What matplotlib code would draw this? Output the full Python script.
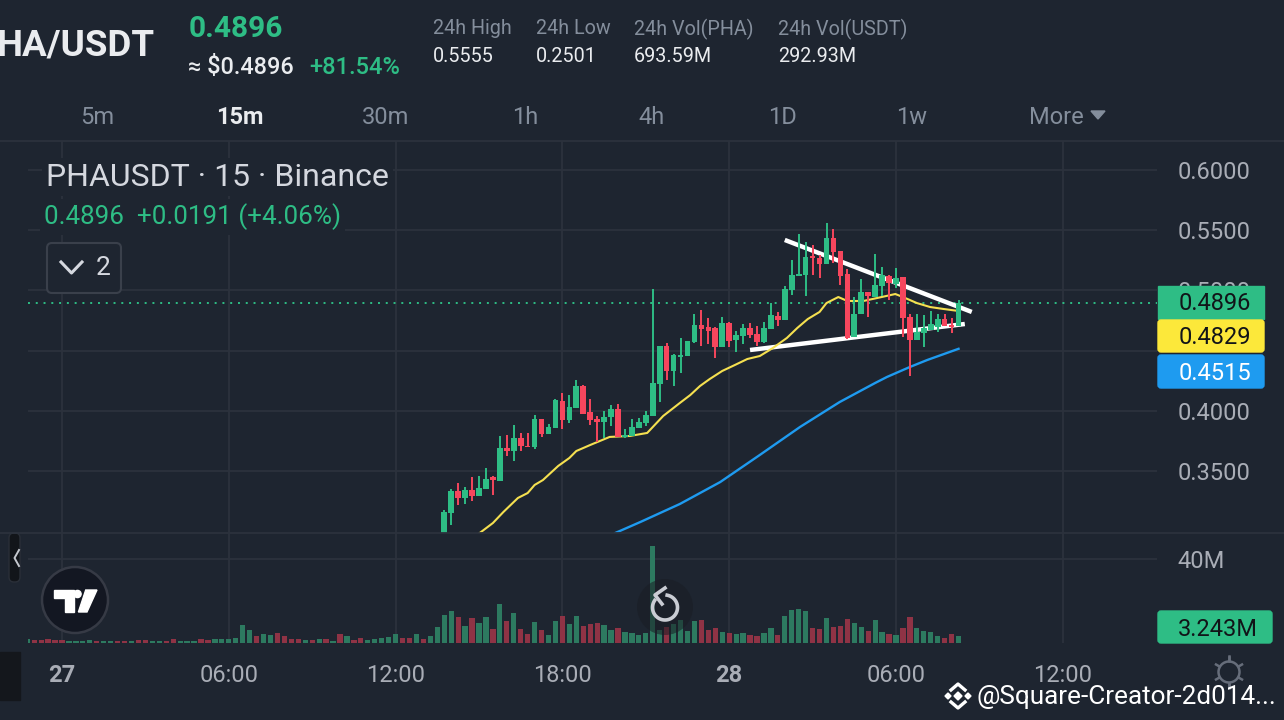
"""PHAUSDT 15m chart screenshot, redrawn with matplotlib."""

import matplotlib
matplotlib.use('Agg')
import matplotlib.pyplot as plt
import numpy as np
from matplotlib.patches import Circle, FancyBboxPatch, Polygon, Rectangle

plt.rcParams['font.family'] = ['Roboto', 'DejaVu Sans']

# candles, one per 15m bar, first one is bar 55 (bar 0 = 27th 00:00)
opens = [.2968, .3151, .3334, .3276, .3342, .3292, .3350, .3450, .3417, .3691, .3666, .3775, .3707, .3699, .3932,
         .3808, .3858, .4082, .3924, .4024, .4206, .3990, .3932, .3907, .3949, .4015, .3783, .3791, .3858, .3899,
         .3957, .4223, .4538, .4331, .4447, .4455, .4571, .4712, .4696, .4688, .4530, .4729, .4588, .4621, .4688,
         .4638, .4571, .4679, .4787, .4754, .5003, .5120, .5128, .5286, .5269, .5219, .5435, .5327, .5136, .4613,
         .4804, .4987, .4945, .5037, .5120, .5053, .5111, .4779, .4588, .4646, .4671, .4696, .4762, .4712, .4704]
highs = [.3176, .3350, .3400, .3367, .3450, .3458, .3525, .3458, .3791, .3799, .3882, .3816, .3816, .3965, .3932,
         .3891, .4098, .4148, .4131, .4256, .4214, .4098, .3957, .3999, .4048, .4057, .3850, .3932, .3941, .3999,
         .5012, .4538, .4563, .4472, .4605, .4580, .4804, .4837, .4771, .4696, .4779, .4738, .4663, .4721, .4729,
         .4704, .4738, .4895, .4821, .5037, .5252, .5468, .5402, .5377, .5294, .5560, .5510, .5327, .5178, .4945,
         .5095, .4987, .5302, .5194, .5128, .5186, .5111, .4804, .4804, .4796, .4829, .4804, .4804, .4771, .4920]
lows = [.2968, .3051, .3217, .3226, .3251, .3292, .3350, .3300, .3417, .3624, .3583, .3666, .3699, .3683, .3783,
        .3808, .3858, .3850, .3899, .4024, .3974, .3882, .3740, .3775, .3875, .3783, .3775, .3791, .3858, .3875,
        .3957, .4073, .4256, .4206, .4314, .4455, .4563, .4538, .4555, .4439, .4530, .4530, .4488, .4555, .4605,
        .4538, .4563, .4679, .4704, .4754, .4962, .5120, .4953, .5128, .5103, .5219, .5228, .5045, .4596, .4613,
        .4804, .4779, .4945, .4953, .4920, .5020, .4613, .4289, .4588, .4530, .4671, .4654, .4704, .4646, .4704]
closes = [.3159, .3334, .3276, .3342, .3292, .3359, .3433, .3425, .3691, .3666, .3775, .3707, .3699, .3932, .3808,
          .3866, .4090, .3924, .4032, .4206, .3974, .3924, .3907, .3949, .4015, .3783, .3799, .3866, .3907, .3965,
          .4231, .4538, .4331, .4463, .4463, .4580, .4712, .4679, .4663, .4530, .4729, .4580, .4629, .4688, .4629,
          .4571, .4688, .4796, .4754, .5012, .5128, .5136, .5277, .5269, .5219, .5435, .5319, .5120, .4605, .4804,
          .4987, .4953, .5045, .5128, .5061, .5103, .4771, .4588, .4654, .4688, .4721, .4762, .4704, .4696, .4896]

# moving averages (bar number, price)
yellow_bars = [60.1, 62, 63.5, 65.6, 67, 68, 69.2, 71.4, 73, 74, 76, 78.8, 81.7, 84.2, 86.5, 88.9, 90.4, 91.8, 93.2,
               95, 96.8, 98.6, 100.4, 102.3, 104.3, 105.8, 107.3, 109, 110, 111.7, 113, 115.3, 117.3, 119.9, 121,
               123, 124.9, 126.8, 129]
yellow_ma = [.2985, .3068, .3159, .3276, .3317, .3384, .3425, .3542, .3608, .3666, .3716, .3783, .3791, .3816, .3957,
             .4065, .4131, .4206, .4264, .4331, .4380, .4430, .4455, .4522, .4605, .4688, .4762, .4821, .4895, .4945,
             .4912, .4912, .4937, .4970, .4945, .4895, .4862, .4846, .4829]
blue_bars = [79.6, 83.2, 88.9, 94.7, 100.4, 106.2, 111.9, 117, 118.7, 122, 124.5, 129]
blue_ma = [.2985, .3076, .3226, .3408, .3633, .3866, .4073, .4231, .4281, .4364, .4422, .4515]

# hand drawn triangle
upper_bars = [104, 130.9]
upper_prices = [.5419, .4821]
lower_bars = [99, 129.9]
lower_prices = [.4505, .4721]

# volume in millions, first one is bar -5
volumes = [1.7, 1.3, 1.3, 1.7, 1.3, 1.3, .8, .8, .8, 1.3, .8, .8, .8, .8, .8, .8, 1.3, 1.3, .8, .8, 1.0, 1.7, .8, .8,
           .8, 1.7, 1.3, 1.7, 1.7, 1.7, 2.2, 8.4, 6.2, 3.3, 4.3, 3.8, 4.8, 3.3, 1.9, 1.9, 1.3, 1.3, 1.7, 1.7, .8, 4.3,
           3.3, 1.3, 2.2, 1.3, 1.7, 2.2, 2.7, 4.3, 2.4, 2.4, 4.3, 1.9, 3.3, 7.6, 13.3, 15.2, 12.4, 8.1, 11.9, 9.5,
           12.4, 6.7, 18.6, 10.5, 14.3, 6.7, 4.3, 10.0, 6.2, 3.8, 10.5, 12.9, 9.0, 12.9, 8.1, 9.0, 9.5, 8.6, 6.2,
           7.1, 5.2, 4.8, 3.8, 4.8, 46.2, 6.2, 7.8, 9.0, 11.0, 5.7, 10.5, 11.0, 6.2, 7.1, 5.2, 4.8, 4.3, 4.8, 3.8,
           3.3, 4.8, 7.1, 3.8, 12.9, 15.7, 16.2, 15.2, 7.1, 6.7, 11.9, 7.6, 8.1, 11.4, 9.5, 7.6, 5.7, 11.0, 5.2, 4.3,
           3.8, 7.1, 12.4, 7.1, 5.7, 5.2, 3.3, 2.4, 4.3, 3.243]
# up/down of the volume bars before the first candle, later ones follow the candles
early_dirs = 'grrrrrggggrggrrgrrggrrgggrrggggggrggrrrrgrgrgrgrrgggggrrgrgg'

# 0.4500 sits behind the value tags in the picture
price_ticks = [.60, .55, .50, .45, .40, .35]
price_labels = ['0.6000', '0.5500', '0.5000', '', '0.4000', '0.3500']
time_ticks = [0, 24, 48, 72, 96, 120, 144]
time_labels = ['27', '06:00', '12:00', '18:00', '28', '06:00', '12:00']

W, H = 1284, 720
BG = '#1e2530'
GRID = '#2c323d'
UP = '#2ebd85'
DOWN = '#f6465d'
GREY = '#848e9c'
LIGHT = '#eaecef'

fig = plt.figure(figsize=(W / 100, H / 100), dpi=100, facecolor=BG)


def make_axes(left, top, right, bottom):
    a = fig.add_axes([left / W, 1 - bottom / H, (right - left) / W, (bottom - top) / H], facecolor='none')
    for s in a.spines.values():
        s.set_visible(False)
    return a


ax = make_axes(28, 141, 1157, 533)
ax_vol = make_axes(28, 533, 1157, 643)

bar0_x, bar_w = 62, 6.95
xlim = ((28 - bar0_x) / bar_w, (1157 - bar0_x) / bar_w)

# price pane
ax.set_xlim(xlim)
ax.set_ylim(.6 - (533 - 170) / 1204, .6 + (170 - 141) / 1204)
ax.set_yticks(price_ticks, price_labels)
ax.yaxis.tick_right()
ax.set_xticks(time_ticks)
ax.tick_params(axis='x', length=0, labelbottom=False)
ax.tick_params(axis='y', length=0, pad=15, labelsize=17, labelcolor='#a9adb6')
ax.grid(True, color=GRID, lw=1.3)
ax.set_axisbelow(True)

bars = np.arange(55, 130)
opens, highs, lows, closes = map(np.array, (opens, highs, lows, closes))
colors = np.where(closes >= opens, UP, DOWN)

ax.axhline(closes[-1], color=UP, ls=(0, (1, 3)), lw=1.4, zorder=2)
ax.plot(upper_bars, upper_prices, color='white', lw=3.2, zorder=2.5, solid_capstyle='butt')
ax.plot(lower_bars, lower_prices, color='white', lw=3.2, zorder=2.5, solid_capstyle='butt')
ax.plot(blue_bars, blue_ma, color='#1e9bf0', lw=1.7, zorder=3)
ax.plot(yellow_bars, yellow_ma, color='#f5e050', lw=1.5, zorder=3)
ax.vlines(bars, lows, highs, colors=colors, lw=1.4, zorder=4)
ax.bar(bars, np.abs(closes - opens), bottom=np.minimum(opens, closes), width=.82, color=colors, zorder=4)

# volume pane
vol_bars = np.arange(-5, 130)
vol_dirs = list(early_dirs) + ['g' if c >= o else 'r' for o, c in zip(opens, closes)]
vol_colors = ['#2d7a60' if d == 'g' else '#8f3345' for d in vol_dirs]
ax_vol.set_xlim(xlim)
ax_vol.set_ylim(0, 110 * 40 / 84)
ax_vol.bar(vol_bars, volumes, width=.76, color=vol_colors, zorder=3)
ax_vol.set_yticks([40], ['40M'])
ax_vol.yaxis.tick_right()
ax_vol.set_xticks(time_ticks, time_labels)
ax_vol.tick_params(axis='x', length=0, pad=15, labelsize=17, labelcolor='#a9adb6')
ax_vol.tick_params(axis='y', length=0, pad=15, labelsize=17, labelcolor='#a9adb6')
for i in (0, 4):
    ax_vol.get_xticklabels()[i].set_fontweight('bold')
ax_vol.grid(True, color=GRID, lw=1.3)
ax_vol.set_axisbelow(True)

# everything around the chart goes on an overlay in pixel coordinates
ui = fig.add_axes([0, 0, 1, 1], facecolor='none')
ui.set_xlim(0, W)
ui.set_ylim(H, 0)
ui.axis('off')


def txt(x, y, s, size, color, ha='left', weight='normal', **kw):
    return ui.text(x, y, s, fontsize=size, color=color, ha=ha, va='center', fontweight=weight, **kw)


ui.plot([0, W], [141, 141], color=GRID, lw=1.3)
ui.plot([0, W], [533, 533], color=GRID, lw=1.3)

# header
txt(155, 46, 'HA/USDT', 26.5, LIGHT, ha='right', weight='bold')
txt(189, 29, '0.4896', 21.5, UP, weight='bold')
txt(188, 68, '≈ $0.4896', 16.8, LIGHT, weight='medium')
txt(309, 68, '+81.54%', 17, UP, weight='medium')
for x, head, val in [(433, '24h High', '0.5555'), (536, '24h Low', '0.2501'),
                     (634, '24h Vol(PHA)', '693.59M'), (778, '24h Vol(USDT)', '292.93M')]:
    txt(x, 29, head, 14.2, GREY)
    txt(x, 57, val, 14.2, LIGHT)

for x, lab in [(97, '5m'), (386, '30m'), (525, '1h'), (652, '4h'), (782, '1D'), (912, '1w'), (1056, 'More')]:
    txt(x, 118, lab, 17, GREY, ha='center')
txt(240, 118, '15m', 17, LIGHT, ha='center', weight='bold')
ui.add_patch(Polygon([(1091, 111), (1105, 111), (1098, 119)], color=GREY))

# legend, its text hides the grid behind it
leg_bg = dict(facecolor=BG, edgecolor='none', pad=3)
txt(46, 177, 'PHAUSDT · 15 · Binance', 23, '#d5d8df', bbox=leg_bg)
txt(44, 217, '0.4896  +0.0191 (+4.06%)', 18.7, UP, bbox=leg_bg)
ui.add_patch(FancyBboxPatch((47, 243), 74, 50, boxstyle='round,pad=0,rounding_size=5',
                            fc=BG, ec='#3a404b', lw=1.5))
ui.plot([61, 71.5, 82], [262, 273, 262], color='#d5d8df', lw=2.2)
txt(96, 268, '2', 19, '#d5d8df')

# last value tags
tag_text = '#111418'
ui.add_patch(Rectangle((1158, 286), 106, 33, color=UP))
txt(1215, 304, '0.4896', 17, tag_text, ha='center')
ui.add_patch(FancyBboxPatch((1158, 320), 106, 32, boxstyle='round,pad=0,rounding_size=3', color='#fce83a'))
txt(1215, 338, '0.4829', 17, tag_text, ha='center')
ui.add_patch(FancyBboxPatch((1158, 355), 106, 33, boxstyle='round,pad=0,rounding_size=3', color='#1e9bf0'))
txt(1215, 373, '0.4515', 17, 'white', ha='center')
ui.add_patch(FancyBboxPatch((1158, 611), 114, 32, boxstyle='round,pad=0,rounding_size=3', color=UP))
txt(1218, 629, '3.243M', 17, tag_text, ha='center')

# left handle and the dark strip under it
ui.add_patch(FancyBboxPatch((9, 533), 11, 49, boxstyle='round,pad=0,rounding_size=5', fc='#12151a', ec='#2a2f38'))
ui.plot([19, 14.5, 19], [550, 558, 566], color='#c5c8cf', lw=1.4)
ui.add_patch(Rectangle((0, 652), 20, 48, color='#14171c'))

# tradingview badge
ui.add_patch(Circle((75, 600), 33, fc='#131722', ec='#363a45', lw=1.8, zorder=5))
ui.add_patch(Polygon([(54, 590), (73.5, 590), (73.5, 612), (64.5, 612), (64.5, 598), (54, 598)], color='white', zorder=6))
ui.add_patch(Circle((77.5, 594), 3.6, color='white', zorder=6))
ui.add_patch(Polygon([(85.7, 590), (97, 590), (87, 612), (78.4, 612)], color='white', zorder=6))

# reset button
ui.add_patch(Circle((665, 607), 28, fc='#191d24', ec='none', alpha=.55, zorder=5))
t = np.radians(np.linspace(-80, 215, 60))
ui.plot(665 + 12.5 * np.cos(t), 607.5 + 12.5 * np.sin(t), color='#c9ccd3', lw=2.6, zorder=6)
ui.plot([665, 655, 662], [588, 595, 604], color='#c9ccd3', lw=2.6, zorder=6)

# theme button
ui.add_patch(Circle((1229, 672), 10.5, fc='none', ec='#666d7a', lw=1.8))
for a in np.radians(np.arange(0, 360, 60) + 30):
    ui.plot([1229 + 11 * np.cos(a), 1229 + 15 * np.cos(a)], [672 + 11 * np.sin(a), 672 + 15 * np.sin(a)],
            color='#666d7a', lw=1.8)
ui.plot([1229, 1229], [656, 660], color='#666d7a', lw=1.8)
ui.plot([1229, 1229], [684, 688], color='#666d7a', lw=1.8)

# watermark
for cx, cy, r in [(948, 696, 3), (968, 696, 3), (958, 696, 4)]:
    ui.add_patch(Polygon([(cx - r, cy), (cx, cy - r), (cx + r, cy), (cx, cy + r)], color='white'))
ui.plot([951, 958, 965], [690, 684, 690], color='white', lw=2.4)
ui.plot([951, 958, 965], [702, 708, 702], color='white', lw=2.4)
txt(976, 697, '@Square-Creator-2d014...', 18.8, 'white')

fig.savefig('out.png', dpi=100, facecolor=BG)
